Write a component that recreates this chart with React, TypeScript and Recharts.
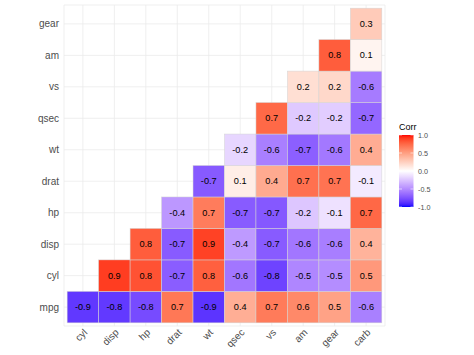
import React from "react";
import { ScatterChart, Scatter, XAxis, YAxis, CartesianGrid } from "recharts";

// ---- data ----
const colVars = ["cyl", "disp", "hp", "drat", "wt", "qsec", "vs", "am", "gear", "carb"];
const rowVars = ["mpg", "cyl", "disp", "hp", "drat", "wt", "qsec", "vs", "am", "gear"];
// lower triangle, each row starts at the column right after its own variable
const mpgCorr = [-0.852, -0.848, -0.776, 0.681, -0.868, 0.419, 0.664, 0.6, 0.48, -0.551];
const cylCorr = [0.902, 0.832, -0.7, 0.782, -0.591, -0.811, -0.523, -0.493, 0.527];
const dispCorr = [0.791, -0.71, 0.888, -0.434, -0.71, -0.591, -0.556, 0.395];
const hpCorr = [-0.449, 0.659, -0.708, -0.723, -0.243, -0.126, 0.749];
const dratCorr = [-0.712, 0.091, 0.44, 0.713, 0.7, -0.091];
const wtCorr = [-0.175, -0.555, -0.692, -0.583, 0.428];
const qsecCorr = [0.745, -0.23, -0.213, -0.656];
const vsCorr = [0.168, 0.206, -0.57];
const amCorr = [0.794, 0.058];
const gearCorr = [0.274];
const rows = [mpgCorr, cylCorr, dispCorr, hpCorr, dratCorr, wtCorr, qsecCorr, vsCorr, amCorr, gearCorr];
const legendTicks = [1.0, 0.5, 0.0, -0.5, -1.0];

const cells: { x: number; y: number; v: number }[] = [];
rows.forEach((r, ri) => {
  r.forEach((v, k) => {
    cells.push({ x: ri + k, y: ri, v });
  });
});

// ---- colour (Lab interpolation like ggplot's gradient2) ----
function srgbToLin(c: number) {
  c /= 255;
  return c <= 0.04045 ? c / 12.92 : Math.pow((c + 0.055) / 1.055, 2.4);
}
function linToSrgb(c: number) {
  const v = c <= 0.0031308 ? 12.92 * c : 1.055 * Math.pow(c, 1 / 2.4) - 0.055;
  return Math.max(0, Math.min(255, Math.round(v * 255)));
}
const Xn = 0.95047, Yn = 1.0, Zn = 1.08883;
function rgbToLab([r, g, b]: number[]) {
  const R = srgbToLin(r), G = srgbToLin(g), B = srgbToLin(b);
  const X = R * 0.4124564 + G * 0.3575761 + B * 0.1804375;
  const Y = R * 0.2126729 + G * 0.7151522 + B * 0.072175;
  const Z = R * 0.0193339 + G * 0.119192 + B * 0.9503041;
  const f = (t: number) => (t > 0.008856 ? Math.cbrt(t) : 7.787 * t + 16 / 116);
  const fx = f(X / Xn), fy = f(Y / Yn), fz = f(Z / Zn);
  return [116 * fy - 16, 500 * (fx - fy), 200 * (fy - fz)];
}
function labToRgb([L, a, b]: number[]) {
  const fy = (L + 16) / 116, fx = fy + a / 500, fz = fy - b / 200;
  const fi = (t: number) => (t * t * t > 0.008856 ? t * t * t : (t - 16 / 116) / 7.787);
  const X = fi(fx) * Xn, Y = fi(fy) * Yn, Z = fi(fz) * Zn;
  const R = X * 3.2404542 + Y * -1.5371385 + Z * -0.4985314;
  const G = X * -0.969266 + Y * 1.8760108 + Z * 0.041556;
  const B = X * 0.0556434 + Y * -0.2040259 + Z * 1.0572252;
  return [linToSrgb(R), linToSrgb(G), linToSrgb(B)];
}
const labLow = rgbToLab([0, 0, 255]);
const labMid = rgbToLab([255, 255, 255]);
const labHigh = rgbToLab([255, 0, 0]);
function corrColor(v: number) {
  const t = Math.max(-1, Math.min(1, v));
  const to = t < 0 ? labLow : labHigh;
  const s = Math.abs(t);
  const lab = [0, 1, 2].map((i) => labMid[i] + (to[i] - labMid[i]) * s);
  const [r, g, b] = labToRgb(lab);
  return `rgb(${r},${g},${b})`;
}

// ---- layout ----
const W = 474;
const H = 355;
const margin = { top: 5, right: 89, bottom: 0, left: 0 };
const yAxisW = 64;
const xAxisH = 29;
const domain: [number, number] = [-0.6, 9.6];
const plotW = W - margin.left - margin.right - yAxisW;
const cellW = plotW / (domain[1] - domain[0]);
const plotH = H - margin.top - margin.bottom - xAxisH;
const cellH = plotH / (domain[1] - domain[0]);
const FONT = "'Liberation Sans', Arial, sans-serif";
const idx = [0, 1, 2, 3, 4, 5, 6, 7, 8, 9];

const CellShape = (props: any) => {
  const { cx, cy, payload } = props;
  if (cx == null || cy == null) return null;
  return (
    <g>
      <rect
        x={cx - cellW / 2}
        y={cy - cellH / 2}
        width={cellW}
        height={cellH}
        fill={corrColor(payload.v)}
        stroke="#d4d4d4"
        strokeWidth={0.5}
      />
      <text
        x={cx}
        y={cy}
        textAnchor="middle"
        dominantBaseline="central"
        fontSize={9.2}
        fontFamily={FONT}
        fill="#000"
      >
        {payload.v.toFixed(1)}
      </text>
    </g>
  );
};

const XTick = (props: any) => {
  const { x, y, payload } = props;
  return (
    <text
      x={x}
      y={y}
      transform={`rotate(-45 ${x} ${y})`}
      textAnchor="end"
      dy="0.72em"
      fontSize={10}
      fontFamily={FONT}
      fill="#4d4d4d"
    >
      {colVars[payload.value]}
    </text>
  );
};

const YTick = (props: any) => {
  const { x, y, payload } = props;
  return (
    <text
      x={x}
      y={y}
      textAnchor="end"
      dominantBaseline="central"
      fontSize={10}
      fontFamily={FONT}
      fill="#4d4d4d"
    >
      {rowVars[payload.value]}
    </text>
  );
};

const Legend = () => {
  const barX = 399;
  const barY = 135;
  const barW = 14.5;
  const barH = 72;
  const stops = [];
  for (let i = 0; i <= 40; i++) {
    const v = 1 - (2 * i) / 40;
    stops.push(<stop key={i} offset={`${(i / 40) * 100}%`} stopColor={corrColor(v)} />);
  }
  const yOf = (v: number) => barY + ((1 - v) / 2) * barH;
  return (
    <svg
      width={W}
      height={H}
      style={{ position: "absolute", left: 0, top: 0, pointerEvents: "none" }}
    >
      <defs>
        <linearGradient id="corrGrad" x1="0" y1="0" x2="0" y2="1">
          {stops}
        </linearGradient>
      </defs>
      <text x={barX} y={127} dominantBaseline="central" fontSize={9} fontFamily={FONT} fill="#000">
        Corr
      </text>
      <rect x={barX} y={barY} width={barW} height={barH} fill="url(#corrGrad)" />
      {legendTicks.map((t) => (
        <g key={t}>
          <line x1={barX} x2={barX + 3} y1={yOf(t)} y2={yOf(t)} stroke="#fff" strokeWidth={0.6} />
          <line x1={barX + barW - 3} x2={barX + barW} y1={yOf(t)} y2={yOf(t)} stroke="#fff" strokeWidth={0.6} />
          <text
            x={418}
            y={yOf(t)}
            dominantBaseline="central"
            fontSize={7.2}
            fontFamily={FONT}
            fill="#4d4d4d"
          >
            {t.toFixed(1)}
          </text>
        </g>
      ))}
    </svg>
  );
};

export default function App() {
  return (
    <div style={{ position: "absolute", left: 0, top: 0, width: W, height: H, background: "#fff" }}>
      <ScatterChart width={W} height={H} margin={margin}>
        <CartesianGrid stroke="#ebebeb" strokeWidth={0.8} />
        <XAxis
          dataKey="x"
          type="number"
          domain={domain}
          ticks={idx}
          interval={0}
          height={xAxisH}
          axisLine={false}
          tickLine={false}
          tickSize={0}
          tickMargin={2}
          tick={<XTick />}
          allowDataOverflow
        />
        <YAxis
          dataKey="y"
          type="number"
          domain={domain}
          ticks={idx}
          interval={0}
          width={yAxisW}
          axisLine={false}
          tickLine={false}
          tickSize={0}
          tickMargin={5}
          tick={<YTick />}
          allowDataOverflow
        />
        <Scatter data={cells} shape={<CellShape />} isAnimationActive={false} />
      </ScatterChart>
      <Legend />
    </div>
  );
}
